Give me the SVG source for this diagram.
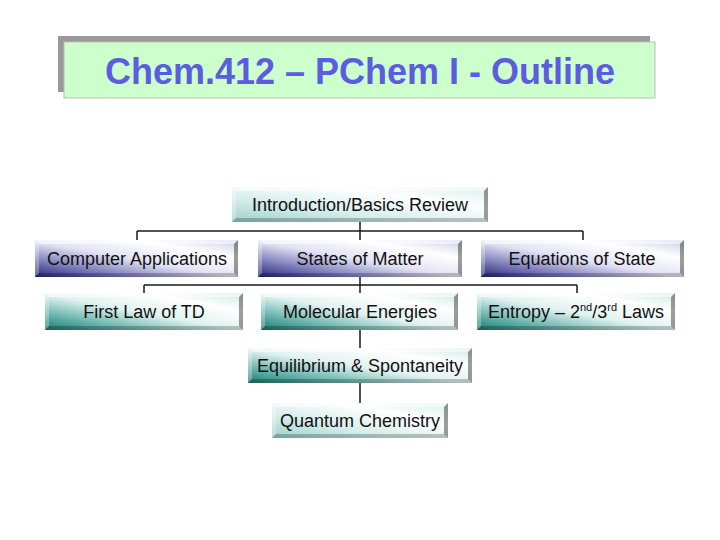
<svg xmlns="http://www.w3.org/2000/svg" width="720" height="540" viewBox="0 0 720 540">
<defs>
<linearGradient id="gPurple" x1="0" y1="1" x2="1" y2="0">
<stop offset="0" stop-color="#26266e"/>
<stop offset="0.2" stop-color="#7272b4"/>
<stop offset="0.48" stop-color="#e2e2f4"/>
<stop offset="0.75" stop-color="#ffffff"/>
<stop offset="1" stop-color="#cccce8"/>
</linearGradient>
<linearGradient id="gTeal" x1="0" y1="1" x2="1" y2="0">
<stop offset="0" stop-color="#1c7a70"/>
<stop offset="0.2" stop-color="#62b0a8"/>
<stop offset="0.48" stop-color="#e0f2f0"/>
<stop offset="0.75" stop-color="#ffffff"/>
<stop offset="1" stop-color="#cce8e4"/>
</linearGradient>
<linearGradient id="gLight" x1="0" y1="1" x2="1" y2="0">
<stop offset="0" stop-color="#9ccfcb"/>
<stop offset="0.35" stop-color="#d6eeec"/>
<stop offset="0.7" stop-color="#ffffff"/>
<stop offset="1" stop-color="#d8eeec"/>
</linearGradient>
</defs>
<style>
.t{font-family:"Liberation Sans",Arial,sans-serif;font-size:18px;fill:#111;text-anchor:middle}
.title{font-family:"Liberation Sans",Arial,sans-serif;font-size:36px;font-weight:bold;fill:#5c5ce0;text-anchor:middle}
.bt{fill:#ffffff;fill-opacity:0.55}
.bl{fill:#ffffff;fill-opacity:0.3}
.br{fill:#000000;fill-opacity:0.38}
.bb{fill:#000000;fill-opacity:0.22}
.p{fill:url(#gPurple)}
.c{fill:url(#gTeal)}
.l{fill:url(#gLight)}
.conn{stroke:#1a1a1a;stroke-width:1.5;fill:none}
</style>
<rect width="720" height="540" fill="#ffffff"/>

<g id="title">
<rect x="58" y="36" width="592" height="56" fill="#999999"/>
<rect x="64" y="42" width="591" height="56" fill="#ccffcc" stroke="#bbbbbb" stroke-width="1"/>
<text class="title" x="360" y="84">Chem.412 – PChem I - Outline</text>
</g>

<g id="connectors">
<path class="conn" d="M360 222 V240 M137 231 H583 M137 231 V240 M583 231 V240"/>
<path class="conn" d="M360 277 V293 M144 285 H577 M144 285 V293 M577 285 V293"/>
<path class="conn" d="M360 330 V348 M360 383 V403"/>
</g>

<g id="intro">
<rect class="l" x="232" y="187" width="256" height="35"/>
<polygon class="bt" points="232,187 488,187 484,191 236,191"/>
<polygon class="bl" points="232,187 236,191 236,218 232,222"/>
<polygon class="br" points="488,187 488,222 484,218 484,191"/>
<polygon class="bb" points="232,222 236,218 484,218 488,222"/>
<text class="t" x="360" y="211">Introduction/Basics Review</text>
</g>

<g id="computer">
<rect class="p" x="35" y="240" width="203" height="37"/>
<polygon class="bt" points="35,240 238,240 234,244 39,244"/>
<polygon class="bl" points="35,240 39,244 39,273 35,277"/>
<polygon class="br" points="238,240 238,277 234,273 234,244"/>
<polygon class="bb" points="35,277 39,273 234,273 238,277"/>
<text class="t" x="137" y="265">Computer Applications</text>
</g>

<g id="states">
<rect class="p" x="258" y="240" width="204" height="37"/>
<polygon class="bt" points="258,240 462,240 458,244 262,244"/>
<polygon class="bl" points="258,240 262,244 262,273 258,277"/>
<polygon class="br" points="462,240 462,277 458,273 458,244"/>
<polygon class="bb" points="258,277 262,273 458,273 462,277"/>
<text class="t" x="360" y="265">States of Matter</text>
</g>

<g id="equations">
<rect class="p" x="481" y="240" width="203" height="37"/>
<polygon class="bt" points="481,240 684,240 680,244 485,244"/>
<polygon class="bl" points="481,240 485,244 485,273 481,277"/>
<polygon class="br" points="684,240 684,277 680,273 680,244"/>
<polygon class="bb" points="481,277 485,273 680,273 684,277"/>
<text class="t" x="582" y="265">Equations of State</text>
</g>

<g id="firstlaw">
<rect class="c" x="45" y="293" width="198" height="37"/>
<polygon class="bt" points="45,293 243,293 239,297 49,297"/>
<polygon class="bl" points="45,293 49,297 49,326 45,330"/>
<polygon class="br" points="243,293 243,330 239,326 239,297"/>
<polygon class="bb" points="45,330 49,326 239,326 243,330"/>
<text class="t" x="144" y="318">First Law of TD</text>
</g>

<g id="molecular">
<rect class="c" x="261" y="293" width="197" height="37"/>
<polygon class="bt" points="261,293 458,293 454,297 265,297"/>
<polygon class="bl" points="261,293 265,297 265,326 261,330"/>
<polygon class="br" points="458,293 458,330 454,326 454,297"/>
<polygon class="bb" points="261,330 265,326 454,326 458,330"/>
<text class="t" x="360" y="318">Molecular Energies</text>
</g>

<g id="entropy">
<rect class="c" x="477" y="293" width="198" height="37"/>
<polygon class="bt" points="477,293 675,293 671,297 481,297"/>
<polygon class="bl" points="477,293 481,297 481,326 477,330"/>
<polygon class="br" points="675,293 675,330 671,326 671,297"/>
<polygon class="bb" points="477,330 481,326 671,326 675,330"/>
<text class="t" x="576" y="318">Entropy – 2<tspan font-size="11" dy="-7">nd</tspan><tspan dy="7">/3</tspan><tspan font-size="11" dy="-7">rd</tspan><tspan dy="7"> Laws</tspan></text>
</g>

<g id="equilibrium">
<rect class="c" x="248" y="348" width="224" height="35"/>
<polygon class="bt" points="248,348 472,348 468,352 252,352"/>
<polygon class="bl" points="248,348 252,352 252,379 248,383"/>
<polygon class="br" points="472,348 472,383 468,379 468,352"/>
<polygon class="bb" points="248,383 252,379 468,379 472,383"/>
<text class="t" x="360" y="372">Equilibrium &amp; Spontaneity</text>
</g>

<g id="quantum">
<rect class="l" x="272" y="403" width="176" height="35"/>
<polygon class="bt" points="272,403 448,403 444,407 276,407"/>
<polygon class="bl" points="272,403 276,407 276,434 272,438"/>
<polygon class="br" points="448,403 448,438 444,434 444,407"/>
<polygon class="bb" points="272,438 276,434 444,434 448,438"/>
<text class="t" x="360" y="427">Quantum Chemistry</text>
</g>
</svg>
